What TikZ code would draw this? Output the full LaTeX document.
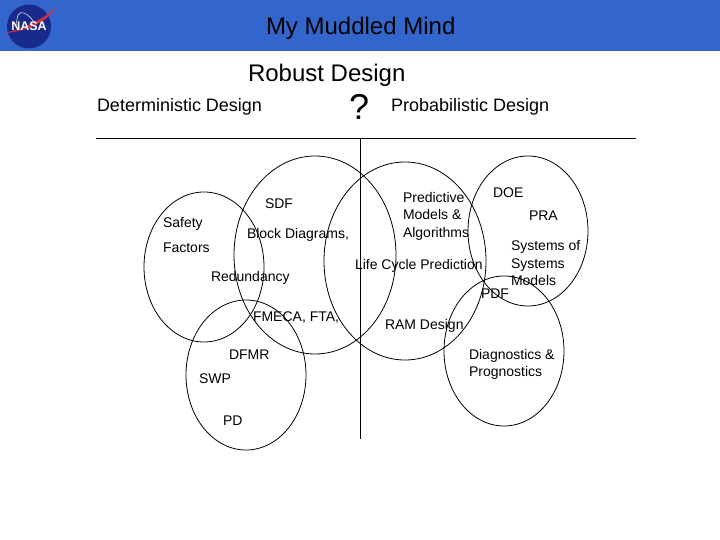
\documentclass[tikz,border=0pt]{standalone}
\usepackage{fontspec}
\setmainfont{Liberation Sans}
\definecolor{hdr}{HTML}{3366CC}
\definecolor{navy}{HTML}{1A2A8C}
\definecolor{swoosh}{HTML}{D8303A}
\tikzset{
  x=1pt,y=-1pt,
  venn/.style={draw=black,line width=0.8pt},
  rulel/.style={draw=black,line width=0.8pt},
  lab/.style={anchor=base west,inner sep=0pt,outer sep=0pt,font=\fontsize{14}{14}\selectfont},
  head/.style={anchor=base west,inner sep=0pt,outer sep=0pt,font=\fontsize{18}{18}\selectfont},
  big/.style={anchor=base west,inner sep=0pt,outer sep=0pt,font=\fontsize{24}{24}\selectfont},
}
\begin{document}
\begin{tikzpicture}
\useasboundingbox (0,0) rectangle (720,540);
\fill[white] (0,0) rectangle (720,540);
\fill[hdr] (0,0) rectangle (720,51);
% logo
\fill[navy] (29,26.5) circle[radius=22];
\draw[white,line width=0.5pt] (17,26) .. controls (15,10) and (24,8) .. (34,22);
\fill[swoosh] (5,33) .. controls (25,28) and (42,20) .. (57,7) .. controls (46,22) and (28,31) .. (5,33) -- cycle;
\node[anchor=base,inner sep=0pt,text=white,font=\bfseries\fontsize{12.5}{12}\selectfont] (nasa) at (29,31) {NASA};
\node[big] (title) at (266,35) {My Muddled Mind};
\node[big] (robust) at (248,82) {Robust Design};
\node[head] (det) at (97,112) {Deterministic Design};
\node[head] (prob) at (391,112) {Probabilistic Design};
\node[anchor=base west,inner sep=0pt,font=\fontsize{36}{36}\selectfont] (q) at (349,120) {?};
% axes
\coordinate (hl) at (96,138); \coordinate (hr) at (636,138);
\coordinate (vt) at (360,138); \coordinate (vb) at (360,439);
\draw[rulel] (hl) -- (hr);
\draw[rulel] (vt) -- (vb);
% ellipses
\draw[venn] (204,267) ellipse[x radius=60,y radius=75];
\draw[venn] (315,255) ellipse[x radius=81,y radius=99];
\draw[venn] (405,261) ellipse[x radius=81,y radius=99];
\draw[venn] (528,231) ellipse[x radius=60,y radius=75];
\draw[venn] (504,351) ellipse[x radius=60,y radius=75];
\draw[venn] (246,375) ellipse[x radius=60,y radius=75];
% labels
\node[lab] (a1) at (163,227) {Safety};
\node[lab] (a2) at (163,252) {Factors};
\node[lab] (a3) at (265,209) {SDF};
\node[lab] (a4) at (247,239) {Block Diagrams,};
\node[lab] (a5) at (211,281) {Redundancy};
\node[lab] (a6) at (253,321) {FMECA, FTA,};
\node[lab] (a7) at (229,359) {DFMR};
\node[lab] (a8) at (199,383) {SWP};
\node[lab] (a9) at (223,425) {PD};
\node[lab] (b1) at (403,203) {Predictive};
\node[lab] (b2) at (403,220) {Models \&};
\node[lab] (b3) at (403,237) {Algorithms};
\node[lab] (b4) at (355,269) {Life Cycle Prediction};
\node[lab] (b5) at (385,329) {RAM Design};
\node[lab] (c1) at (493,197) {DOE};
\node[lab] (c2) at (529,221) {PRA};
\node[lab] (c3) at (511,251) {Systems of};
\node[lab] (c4) at (511,268) {Systems};
\node[lab] (c5) at (511,285) {Models};
\node[lab] (c6) at (481,298) {PDF};
\node[lab] (c7) at (469,359) {Diagnostics \&};
\node[lab] (c8) at (469,376) {Prognostics};
\end{tikzpicture}
\end{document}
